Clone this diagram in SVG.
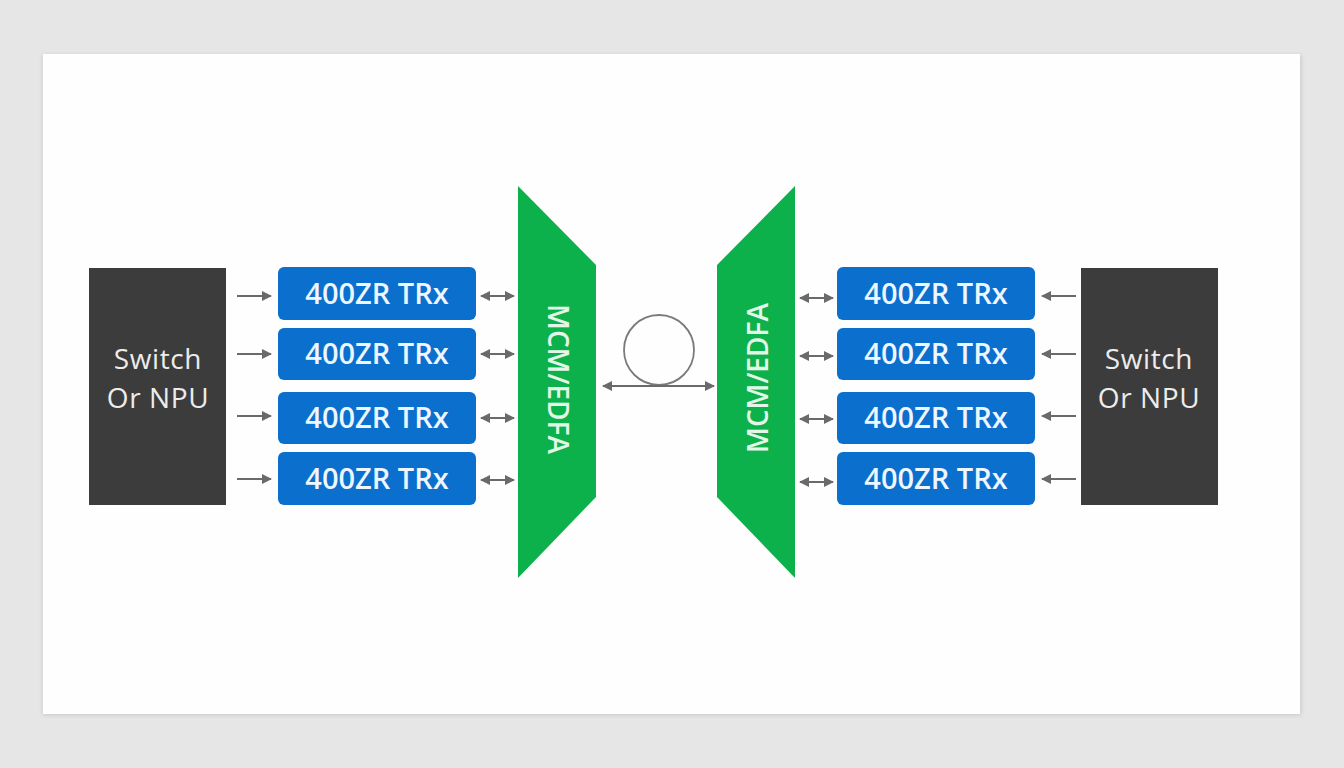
<svg xmlns="http://www.w3.org/2000/svg" width="1344" height="768" viewBox="0 0 1344 768">
<defs>
<style>
.sw{fill:#3c3c3c}
.swt{fill:#ececec;font-family:"Open Sans",sans-serif;font-size:28px;text-anchor:middle;font-weight:500;letter-spacing:0.6px}
.trx{fill:#0b6fcd}
.trxt{fill:#eef6ff;font-family:"Open Sans",sans-serif;font-size:29px;text-anchor:middle;font-weight:600}
.mcm{fill:#0db14b}
.mcmt{fill:#e2f7e8;font-family:"Open Sans",sans-serif;font-size:28px;text-anchor:middle;font-weight:600}
.ln{stroke:#6a6a6a;stroke-width:2;fill:none}
</style>
<marker id="ah" viewBox="0 0 10 10" refX="9" refY="5" markerWidth="5" markerHeight="5" orient="auto-start-reverse">
<path d="M0,0 L10,5 L0,10 z" fill="#6a6a6a"/>
</marker>
<filter id="sh" x="-5%" y="-5%" width="110%" height="110%">
<feGaussianBlur stdDeviation="2"/>
</filter>
</defs>
<rect width="1344" height="768" fill="#e6e6e7"/>
<rect x="43" y="55" width="1258" height="660" fill="#c8c8c8" filter="url(#sh)"/>
<rect x="43" y="54" width="1257" height="660" fill="#fefefe"/>

<g id="switch-left"><rect class="sw" x="89" y="268" width="137" height="237"/><text class="swt" x="158" y="369">Switch</text><text class="swt" x="158" y="408">Or NPU</text></g>
<g id="switch-right"><rect class="sw" x="1081" y="268" width="137" height="237"/><text class="swt" x="1149" y="369">Switch</text><text class="swt" x="1149" y="408">Or NPU</text></g>

<g id="trx-l1"><rect class="trx" x="278" y="267" width="198" height="53" rx="6"/><text class="trxt" x="377" y="304">400ZR TRx</text></g>
<g id="trx-l2"><rect class="trx" x="278" y="328" width="198" height="52" rx="6"/><text class="trxt" x="377" y="364">400ZR TRx</text></g>
<g id="trx-l3"><rect class="trx" x="278" y="392" width="198" height="52" rx="6"/><text class="trxt" x="377" y="428">400ZR TRx</text></g>
<g id="trx-l4"><rect class="trx" x="278" y="452" width="198" height="53" rx="6"/><text class="trxt" x="377" y="489">400ZR TRx</text></g>

<g id="trx-r1"><rect class="trx" x="837" y="267" width="198" height="53" rx="6"/><text class="trxt" x="936" y="304">400ZR TRx</text></g>
<g id="trx-r2"><rect class="trx" x="837" y="328" width="198" height="52" rx="6"/><text class="trxt" x="936" y="364">400ZR TRx</text></g>
<g id="trx-r3"><rect class="trx" x="837" y="392" width="198" height="52" rx="6"/><text class="trxt" x="936" y="428">400ZR TRx</text></g>
<g id="trx-r4"><rect class="trx" x="837" y="452" width="198" height="53" rx="6"/><text class="trxt" x="936" y="489">400ZR TRx</text></g>

<g id="mcm-left"><polygon class="mcm" points="518,186 596,265 596,497 518,578"/><text class="mcmt" transform="translate(548,379) rotate(90)">MCM/EDFA</text></g>
<g id="mcm-right"><polygon class="mcm" points="795,186 717,265 717,497 795,578"/><text class="mcmt" transform="translate(768,378) rotate(-90)">MCM/EDFA</text></g>

<g id="fiber"><circle cx="659" cy="350" r="35" fill="none" stroke="#7a7a7a" stroke-width="1.8"/></g>

<g id="connectors">
<line class="ln" x1="237" y1="296" x2="271" y2="296" marker-end="url(#ah)"/>
<line class="ln" x1="237" y1="354" x2="271" y2="354" marker-end="url(#ah)"/>
<line class="ln" x1="237" y1="416" x2="271" y2="416" marker-end="url(#ah)"/>
<line class="ln" x1="237" y1="479" x2="271" y2="479" marker-end="url(#ah)"/>
<line class="ln" x1="481" y1="296" x2="514" y2="296" marker-start="url(#ah)" marker-end="url(#ah)"/>
<line class="ln" x1="481" y1="354" x2="514" y2="354" marker-start="url(#ah)" marker-end="url(#ah)"/>
<line class="ln" x1="481" y1="418" x2="514" y2="418" marker-start="url(#ah)" marker-end="url(#ah)"/>
<line class="ln" x1="481" y1="480" x2="514" y2="480" marker-start="url(#ah)" marker-end="url(#ah)"/>
<line class="ln" x1="603" y1="386" x2="714" y2="386" marker-start="url(#ah)" marker-end="url(#ah)"/>
<line class="ln" x1="800" y1="298" x2="833" y2="298" marker-start="url(#ah)" marker-end="url(#ah)"/>
<line class="ln" x1="800" y1="356" x2="833" y2="356" marker-start="url(#ah)" marker-end="url(#ah)"/>
<line class="ln" x1="800" y1="419" x2="833" y2="419" marker-start="url(#ah)" marker-end="url(#ah)"/>
<line class="ln" x1="800" y1="482" x2="833" y2="482" marker-start="url(#ah)" marker-end="url(#ah)"/>
<line class="ln" x1="1076" y1="296" x2="1042" y2="296" marker-end="url(#ah)"/>
<line class="ln" x1="1076" y1="354" x2="1042" y2="354" marker-end="url(#ah)"/>
<line class="ln" x1="1076" y1="416" x2="1042" y2="416" marker-end="url(#ah)"/>
<line class="ln" x1="1076" y1="479" x2="1042" y2="479" marker-end="url(#ah)"/>
</g>
</svg>
